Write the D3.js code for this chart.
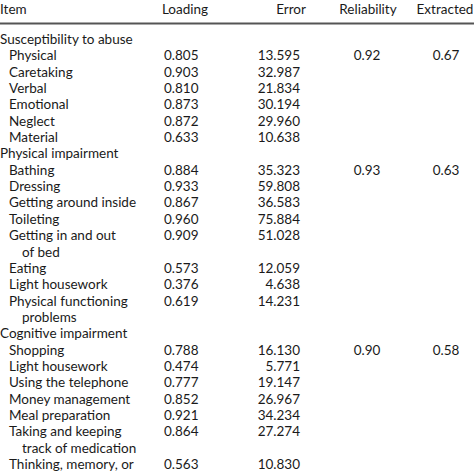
<!DOCTYPE html>
<html>
<head>
<meta charset="utf-8">
<script src="https://cdn.jsdelivr.net/npm/d3@7"></script>
<style>
  body { margin: 0; background: #fff; }
  text { font-family: Lato, "Open Sans", sans-serif; font-size: 13.5px; fill: #1a1a1a; }
</style>
</head>
<body>
<div id="main"></div>
<script>
const headers = ['Item', 'Loading', 'Error', 'Reliability', 'Extracted'];

// each row: [label, indent level, loading, error, reliability, extracted]
const items = [
  ['Susceptibility to abuse', 0, '', '', '', ''],
  ['Physical', 1, '0.805', '13.595', '0.92', '0.67'],
  ['Caretaking', 1, '0.903', '32.987', '', ''],
  ['Verbal', 1, '0.810', '21.834', '', ''],
  ['Emotional', 1, '0.873', '30.194', '', ''],
  ['Neglect', 1, '0.872', '29.960', '', ''],
  ['Material', 1, '0.633', '10.638', '', ''],
  ['Physical impairment', 0, '', '', '', ''],
  ['Bathing', 1, '0.884', '35.323', '0.93', '0.63'],
  ['Dressing', 1, '0.933', '59.808', '', ''],
  ['Getting around inside', 1, '0.867', '36.583', '', ''],
  ['Toileting', 1, '0.960', '75.884', '', ''],
  ['Getting in and out', 1, '0.909', '51.028', '', ''],
  ['of bed', 2, '', '', '', ''],
  ['Eating', 1, '0.573', '12.059', '', ''],
  ['Light housework', 1, '0.376', '4.638', '', ''],
  ['Physical functioning', 1, '0.619', '14.231', '', ''],
  ['problems', 2, '', '', '', ''],
  ['Cognitive impairment', 0, '', '', '', ''],
  ['Shopping', 1, '0.788', '16.130', '0.90', '0.58'],
  ['Light housework', 1, '0.474', '5.771', '', ''],
  ['Using the telephone', 1, '0.777', '19.147', '', ''],
  ['Money management', 1, '0.852', '26.967', '', ''],
  ['Meal preparation', 1, '0.921', '34.234', '', ''],
  ['Taking and keeping', 1, '0.864', '27.274', '', ''],
  ['track of medication', 2, '', '', '', ''],
  ['Thinking, memory, or', 1, '0.563', '10.830', '', '']
];

const svg = d3.select('#main').append('svg')
  .attr('width', 474)
  .attr('height', 474);

const y = d3.scaleLinear().domain([0, items.length - 1]).range([44, 469]);

// header
const headX = [0, 185, 291, 368, 445];
const headAnchor = ['start', 'middle', 'middle', 'middle', 'middle'];
svg.selectAll('text.head')
  .data(headers)
  .enter().append('text')
  .attr('class', 'head')
  .attr('x', (d, i) => headX[i])
  .attr('y', 14)
  .attr('text-anchor', (d, i) => headAnchor[i])
  .text(d => d);

svg.append('line')
  .attr('x1', 0).attr('x2', 474)
  .attr('y1', 23.5).attr('y2', 23.5)
  .attr('stroke', '#555')
  .attr('stroke-width', 2);

const rows = svg.selectAll('g.row')
  .data(items)
  .enter().append('g')
  .attr('transform', (d, i) => 'translate(0,' + y(i) + ')');

rows.append('text')
  .attr('x', d => [0, 9, 22][d[1]])
  .text(d => d[0]);

rows.append('text')
  .attr('x', 164)
  .text(d => d[2]);

rows.append('text')
  .attr('x', 300)
  .attr('text-anchor', 'end')
  .text(d => d[3]);

rows.append('text')
  .attr('x', 367)
  .attr('text-anchor', 'middle')
  .text(d => d[4]);

rows.append('text')
  .attr('x', 446)
  .attr('text-anchor', 'middle')
  .text(d => d[5]);
</script>
</body>
</html>
